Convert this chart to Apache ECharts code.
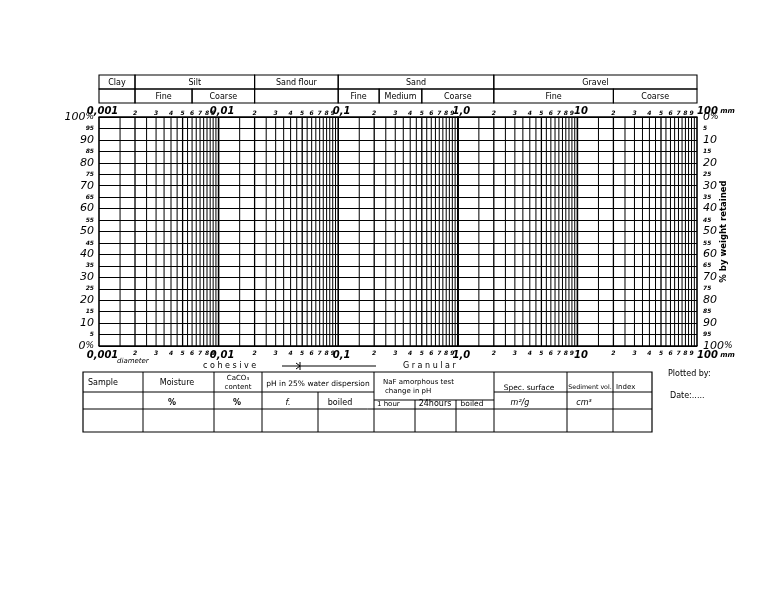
<!DOCTYPE html>
<html>
<head>
<meta charset="utf-8">
<script src="https://cdn.jsdelivr.net/npm/echarts/dist/echarts.min.js"></script>
<style>
html,body{margin:0;padding:0;background:#fff;}
#main{width:768px;height:594px;}
</style>
</head>
<body>
<div id="main"></div>
<script>
// ---- data (axis scales, tick labels, classification) ----
const decades = [0.001, 0.01, 0.1, 1, 10, 100];
const decadeText = ['0,001', '0,01', '0,1', '1,0', '10', '100'];
const digits = [2, 3, 4, 5, 6, 7, 8, 9];
const gridMantissas = [1, 1.5, 2, 2.5, 3, 3.5, 4, 4.5, 5, 5.5, 6, 6.5, 7, 7.5, 8, 8.5, 9, 9.5];
const boldMantissas = [1];
const mediumMantissas = [2, 5];
const percentMin = 0, percentMax = 100, percentStep = 5;

const headerTop = [
  {name: 'Clay', from: 0.001, to: 0.002},
  {name: 'Silt', from: 0.002, to: 0.02},
  {name: 'Sand flour', from: 0.02, to: 0.1},
  {name: 'Sand', from: 0.1, to: 2},
  {name: 'Gravel', from: 2, to: 100}
];
const headerSub = [
  {name: '', from: 0.001, to: 0.002},
  {name: 'Fine', from: 0.002, to: 0.006},
  {name: 'Coarse', from: 0.006, to: 0.02},
  {name: '', from: 0.02, to: 0.1},
  {name: 'Fine', from: 0.1, to: 0.22},
  {name: 'Medium', from: 0.22, to: 0.5},
  {name: 'Coarse', from: 0.5, to: 2},
  {name: 'Fine', from: 2, to: 20},
  {name: 'Coarse', from: 20, to: 100}
];

// ---- derived structures ----
const lg = Math.log10;
const xMin = lg(decades[0]), xMax = lg(decades[decades.length - 1]);
const tickVals = [];
const tickInfo = {};
decades.forEach((d, i) => {
  const k = lg(d);
  tickVals.push(k);
  tickInfo[k.toFixed(4)] = {t: decadeText[i], big: true, first: i === 0, last: i === decades.length - 1};
  if (i < decades.length - 1) {
    digits.forEach(m => {
      const v = lg(d * m);
      tickVals.push(v);
      tickInfo[v.toFixed(4)] = {t: String(m)};
    });
  }
});
const gridLines = [];
decades.forEach((d, i) => {
  if (i < decades.length - 1) {
    gridMantissas.forEach(m => {
      const w = boldMantissas.includes(m) ? 1.6 : (mediumMantissas.includes(m) ? 1.3 : 1);
      gridLines.push([lg(d * m), w]);
    });
  } else {
    gridLines.push([lg(d), 1.6]);
  }
});
const headerCells = [];
headerTop.forEach(c => headerCells.push({name: c.name, value: [lg(c.from), lg(c.to), 1]}));
headerSub.forEach(c => headerCells.push({name: c.name, value: [lg(c.from), lg(c.to), 0]}));

const FF = '"DejaVu Sans", sans-serif';

function xFmt(v) {
  const o = tickInfo[v.toFixed(4)];
  if (!o) return '';
  if (o.last) return '{last|' + o.t + '}{mm| mm}';
  if (o.big) return '{big|' + o.t + '}';
  return '{dig|' + o.t + '}';
}
const xRich = {
  big: {fontSize: 10, fontStyle: 'italic', fontWeight: 'bold', fontFamily: FF, color: '#000', padding: [0, 0, 0, 7]},
  dig: {fontSize: 6, fontStyle: 'italic', fontWeight: 'bold', fontFamily: FF, color: '#000'},
  last: {fontSize: 10, fontStyle: 'italic', fontWeight: 'bold', fontFamily: FF, color: '#000'},
  mm: {fontSize: 7, fontStyle: 'italic', fontWeight: 'bold', fontFamily: FF, color: '#000'}
};
function yFmt(v) {
  if (v === percentMax || v === percentMin) return '{big|' + v + '}{pc|%}';
  if (v % 10 === 0) return '{big|' + v + '}';
  return '{sm|' + v + '}';
}
const yRich = {
  big: {fontSize: 11, fontStyle: 'italic', fontFamily: FF, color: '#000'},
  pc: {fontSize: 9, fontStyle: 'italic', fontFamily: FF, color: '#000'},
  sm: {fontSize: 6, fontStyle: 'italic', fontWeight: 'bold', fontFamily: FF, color: '#000'}
};

// ---- layout-only graphics (form table & annotations) ----
const L = (x1, y1, x2, y2, w) => ({type: 'line', silent: true, shape: {x1, y1, x2, y2}, style: {stroke: '#000', lineWidth: w || 1}});
const T = (text, x, y, size, extra) => ({type: 'text', silent: true, x, y,
  style: Object.assign({text, fill: '#000', font: size + 'px ' + FF, align: 'center', verticalAlign: 'middle'}, extra || {})});

const tb = {x0: 83, x1: 652, y0: 372, yH: 392, yHN: 400, yU: 409, y1: 432};
const tableCols = [143, 214, 262, 374, 494, 567, 613];
const graphics = [
  {type: 'rect', silent: true, shape: {x: tb.x0, y: tb.y0, width: tb.x1 - tb.x0, height: tb.y1 - tb.y0}, style: {fill: 'none', stroke: '#000', lineWidth: 1.2}},
  L(tb.x0, tb.yH, 374, tb.yH), L(494, tb.yH, tb.x1, tb.yH), L(374, tb.yHN, 494, tb.yHN), L(tb.x0, tb.yU, tb.x1, tb.yU),
  L(318, tb.yH, 318, tb.y1), L(415, tb.yHN, 415, tb.y1), L(456, tb.yHN, 456, tb.y1),
  T('Sample', 88, 383, 8, {align: 'left'}),
  T('Moisture', 177, 383, 8),
  T('CaCO\u2083', 238, 378, 7), T('content', 238, 387, 7),
  T('pH in 25% water dispersion', 318, 384, 7.5),
  T('%', 172, 403, 8, {font: 'bold 8px ' + FF}), T('%', 237, 403, 8, {font: 'bold 8px ' + FF}),
  T('f.', 288, 403, 8, {font: 'italic 8px ' + FF}), T('boiled', 340, 403, 8),
  T('NaF amorphous test', 383, 382, 7, {align: 'left'}), T('change in pH', 385, 391, 7, {align: 'left'}),
  T('1 hour', 377, 404, 7, {align: 'left'}), T('24hours', 435, 404, 8), T('boiled', 472, 404, 7.5),
  T('Spec. surface', 529, 388, 7.5), T('Sediment vol.', 590, 387, 6.3), T('Index', 616, 387, 7, {align: 'left'}),
  T('m\u00B2/g', 520, 403, 8, {font: 'italic 8px ' + FF}), T('cm\u00B3', 584, 403, 8, {font: 'italic 8px ' + FF}),
  T('Plotted by:', 668, 374, 8, {align: 'left'}), T('Date:.....', 670, 396, 8, {align: 'left'}),
  T('diameter', 117, 361, 7, {align: 'left', font: 'italic 7px ' + FF}),
  T('c o h e s i v e', 203, 366, 8, {align: 'left'}),
  L(282, 366, 376, 366, 1), L(300, 362, 300, 370, 1), L(296, 363, 300, 366, 1), L(296, 369, 300, 366, 1),
  T('G r a n u l a r', 403, 366, 8, {align: 'left'})
];
tableCols.forEach(x => graphics.push(L(x, tb.y0, x, tb.y1)));

const xLabelCommon = {customValues: tickVals, formatter: xFmt, rich: xRich,
  showMinLabel: true, showMaxLabel: true, hideOverlap: false, alignMaxLabel: 'left'};

const chart = echarts.init(document.getElementById('main'), null, {renderer: 'canvas'});
chart.setOption({
  animation: false,
  backgroundColor: '#fff',
  grid: [
    {left: 99, right: 71, top: 117, bottom: 248, show: false},
    {left: 99, right: 71, top: 75, height: 28, show: false}
  ],
  xAxis: [
    {type: 'value', gridIndex: 0, position: 'bottom', min: xMin, max: xMax,
      axisLine: {show: true, onZero: false, lineStyle: {color: '#000', width: 1.5}},
      axisTick: {show: false}, splitLine: {show: false},
      axisLabel: Object.assign({margin: 4}, xLabelCommon)},
    {type: 'value', gridIndex: 0, position: 'top', min: xMin, max: xMax,
      axisLine: {show: true, onZero: false, lineStyle: {color: '#000', width: 1.5}},
      axisTick: {show: false}, splitLine: {show: false},
      axisLabel: Object.assign({margin: 1}, xLabelCommon)},
    {type: 'value', gridIndex: 1, min: xMin, max: xMax, show: false}
  ],
  yAxis: [
    {type: 'value', gridIndex: 0, position: 'left', min: percentMin, max: percentMax, interval: percentStep,
      axisLine: {show: true, lineStyle: {color: '#000', width: 1.5}},
      axisTick: {show: false},
      splitLine: {show: true, lineStyle: {color: '#000', width: 1}},
      axisLabel: {formatter: yFmt, rich: yRich, margin: 5}},
    {type: 'value', gridIndex: 0, position: 'right', inverse: true, min: percentMin, max: percentMax, interval: percentStep,
      axisLine: {show: true, lineStyle: {color: '#000', width: 1.5}},
      axisTick: {show: false}, splitLine: {show: false},
      axisLabel: {formatter: yFmt, rich: yRich, margin: 6},
      name: '% by weight retained', nameLocation: 'middle', nameRotate: 90, nameGap: 22,
      nameMoveOverlap: false,
      nameTextStyle: {fontSize: 8.5, fontWeight: 'bold', fontFamily: FF, color: '#000'}},
    {type: 'value', gridIndex: 1, min: 0, max: 2, show: false}
  ],
  series: [
    {
      type: 'custom', xAxisIndex: 0, yAxisIndex: 0, silent: true, clip: false,
      data: gridLines,
      encode: {x: 0},
      renderItem: (params, api) => {
        const x = api.value(0), w = api.value(1);
        const p0 = api.coord([x, percentMin]), p1 = api.coord([x, percentMax]);
        return {type: 'line', shape: {x1: p0[0], y1: p0[1], x2: p1[0], y2: p1[1]}, style: {stroke: '#000', lineWidth: w}};
      }
    },
    {
      type: 'custom', xAxisIndex: 2, yAxisIndex: 2, silent: true, clip: false,
      data: headerCells,
      encode: {x: [0, 1], y: 2},
      renderItem: (params, api) => {
        const a = api.coord([api.value(0), api.value(2) + 1]);
        const b = api.coord([api.value(1), api.value(2)]);
        const name = headerCells[params.dataIndex].name;
        return {type: 'group', children: [
          {type: 'rect', shape: {x: a[0], y: a[1], width: b[0] - a[0], height: b[1] - a[1]},
            style: {fill: 'none', stroke: '#000', lineWidth: 1.1}},
          {type: 'text', x: (a[0] + b[0]) / 2, y: (a[1] + b[1]) / 2 + 0.5,
            style: {text: name, fill: '#000', font: '8px ' + FF, align: 'center', verticalAlign: 'middle'}}
        ]};
      }
    }
  ],
  graphic: graphics
});
</script>
</body>
</html>
